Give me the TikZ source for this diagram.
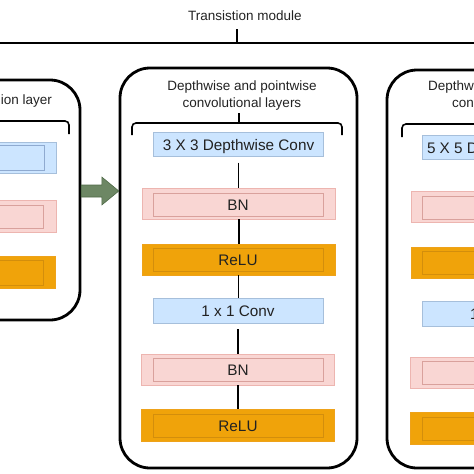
\documentclass[tikz,border=0pt]{standalone}
\usepackage{fontspec}
\setmainfont{Liberation Sans}
\usetikzlibrary{calc}
\definecolor{txt}{HTML}{222222}
\definecolor{bluefill}{HTML}{CCE5FF}
\definecolor{blueline}{HTML}{A6BFDB}
\definecolor{blueinner}{HTML}{8FAAD0}
\definecolor{pinkfill}{HTML}{F9D6D3}
\definecolor{pinkline}{HTML}{EDB5B0}
\definecolor{pinkinner}{HTML}{D9A19C}
\definecolor{orangefill}{HTML}{F0A30A}
\definecolor{orangeline}{HTML}{EEA21A}
\definecolor{orangeinner}{HTML}{D38E0C}
\definecolor{arrowfill}{HTML}{6D8764}
\definecolor{arrowline}{HTML}{4F6A47}
\begin{document}
\begin{tikzpicture}[x=1pt,y=-1pt,
  every node/.style={text=txt, inner sep=0pt, outer sep=0pt},
  titlefont/.style={font=\fontsize{13.5}{16}\selectfont},
  blockfont/.style={font=\fontsize{15.3}{18}\selectfont, text height=11pt, text depth=0pt},
  bigbox/.style={draw=black, line width=2.8pt, rounded corners=30pt, minimum width=237pt, minimum height=400pt},
  bluebox/.style={fill=bluefill, draw=blueline, line width=0.8pt, minimum width=170pt, minimum height=24pt, blockfont},
  pinkbox/.style={fill=pinkfill, draw=pinkline, line width=0.8pt, minimum width=193pt, minimum height=31pt},
  orangebox/.style={fill=orangefill, draw=orangeline, line width=0.8pt, minimum width=193pt, minimum height=31pt},
  pinkinbox/.style={draw=pinkinner, line width=0.7pt, minimum width=170pt, minimum height=23pt, blockfont},
  orangeinbox/.style={draw=orangeinner, line width=0.7pt, minimum width=170pt, minimum height=23pt, blockfont},
  bluein/.style={draw=blueinner, line width=0.7pt},
  brace/.style={draw=black, line width=1.6pt, rounded corners=4pt},
  tick/.style={draw=black, line width=1.6pt},
  conn/.style={draw=black, line width=1.6pt},
  blockarrow/.style={fill=arrowfill, draw=arrowline, line width=0.6pt}
]
\useasboundingbox (0,0) rectangle (474,474);

% top title and brace
\node[titlefont, anchor=base] (title) at (245,20) {Transistion module};
\coordinate (tb) at (237,43);
\draw[tick] (-10,43) -- (484,43);
\draw[tick, shorten >=8.5pt] (tb) -- (tb |- title.south);

% left module
\node[bigbox, minimum width=260pt, minimum height=240pt] (L) at (-50,200) {};
\node[titlefont, anchor=base east] (Ltitle) at (52,104) {ion layer};
\draw[brace] (-10,121) -- (69,121) -- (69,134);
\node[fill=bluefill, draw=blueline, line width=0.8pt, minimum width=200pt, minimum height=31pt] (Lb) at (-44,157.5) {};
\node[bluein, minimum width=176pt, minimum height=25pt] (Lbi) at (-44,157.5) {};
\node[pinkbox, minimum width=200pt, minimum height=32pt] (Lp) at (-44,216) {};
\node[pinkinbox, minimum width=174pt] (Lpi) at (-44,216.5) {};
\node[orangebox, minimum width=198pt, minimum height=32pt] (Lo) at (-44,272) {};
\node[orangeinbox, minimum width=174pt, minimum height=25pt] (Loi) at (-44,272.5) {};

% middle module
\node[bigbox] (M) at (238.5,268) {};
\node[titlefont, anchor=base] (Mt1) at (242,90) {Depthwise and pointwise};
\node[titlefont, anchor=base] (Mt2) at (242,107) {convolutional layers};
\draw[brace] (132,135) -- (132,123) -- (342,123) -- (342,135);
\draw[tick] (239,123) -- (239,113);

\node[bluebox] (Mb1) at (238.5,144.5) {3 X 3 Depthwise Conv};
\node[pinkbox] (Mp1) at (239,203.5) {};
\node[pinkinbox] (Mp1i) at (238,204.5) {BN};
\node[orangebox] (Mo1) at (238.5,259.5) {};
\node[orangeinbox] (Mo1i) at (238,260) {ReLU};
\node[bluebox, minimum height=25pt] (Mb2) at (238,310.5) {1 x 1 Conv};
\node[pinkbox] (Mp2) at (238,369.5) {};
\node[pinkinbox] (Mp2i) at (238,369.5) {BN};
\node[orangebox, minimum height=32pt] (Mo2) at (238,425) {};
\node[orangeinbox] (Mo2i) at (238,425.5) {ReLU};

\draw[conn, shorten <=6pt] (Mb1.south) -- (Mb1.south |- Mp1.north);
\draw[conn] (Mp1.south) -- (Mp1.south |- Mo1.north);
\draw[conn] (Mo1.south) -- (Mo1.south |- Mb2.north);
\draw[conn, shorten <=6pt] (Mb2.south) -- (Mb2.south |- Mp2.north);
\draw[conn] (Mp2.south) -- (Mp2.south |- Mo2.north);

% arrow between left and middle modules
\coordinate (ay) at (0,191);
\coordinate (as) at ($(L.east |- ay)+(1.2,0)$);
\coordinate (ae) at ($(M.west |- ay)+(-1.2,0)$);
\draw[blockarrow] (as) -- ($(as)+(0,-6)$) -- ($(ae)+(-17,-6)$) -- ($(ae)+(-17,-14)$) -- (ae)
  -- ($(ae)+(-17,14)$) -- ($(ae)+(-17,6)$) -- ($(as)+(0,6)$) -- cycle;

% right module
\node[bigbox, minimum height=398pt] (R) at (505.5,269) {};
\node[titlefont, anchor=base west] (Rt1) at (428,90) {Depthw};
\node[titlefont, anchor=base west] (Rt2) at (452,107) {con};
\draw[brace] (402,137) -- (402,124) -- (484,124);

\node[bluebox] (Rb1) at (507.5,147.5) {};
\node[blockfont, anchor=base west] (Rb1t) at (427,153) {5 X 5 D};
\node[pinkbox] (Rp1) at (508,206.5) {};
\node[pinkinbox] (Rp1i) at (507,207.5) {};
\node[orangebox] (Ro1) at (507.5,262.5) {};
\node[orangeinbox] (Ro1i) at (507,263) {};
\node[bluebox, minimum height=25pt] (Rb2) at (507,313.5) {};
\node[blockfont, anchor=base west] (Rb2t) at (470,319) {1};
\node[pinkbox] (Rp2) at (507,372.5) {};
\node[pinkinbox] (Rp2i) at (507,372.5) {};
\node[orangebox, minimum height=32pt] (Ro2) at (507,428) {};
\node[orangeinbox] (Ro2i) at (507,428.5) {};
\end{tikzpicture}
\end{document}
